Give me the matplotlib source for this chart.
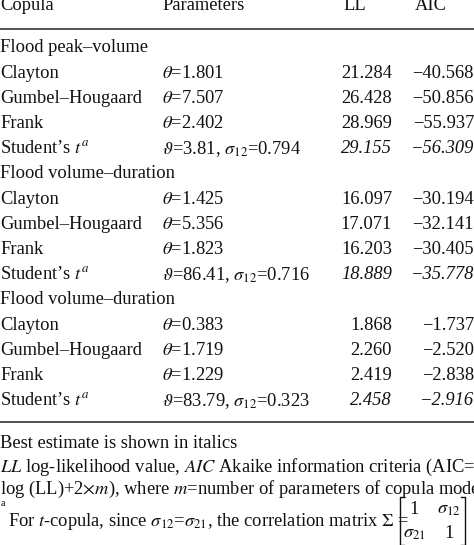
import matplotlib
matplotlib.use("Agg")
import matplotlib.pyplot as plt

plt.rcParams['font.family'] = ['Liberation Serif', 'DejaVu Serif']
plt.rcParams['mathtext.fontset'] = 'stix'

headers = ["Copula", "Parameters", "LL", "AIC"]
groups = ["Flood peak\u2013volume", "Flood volume\u2013duration", "Flood volume\u2013duration"]
copulas = ["Clayton", "Gumbel\u2013Hougaard", "Frank", "Student\u2019s $t^a$"]
params = [
    [r"$\theta$=1.801", r"$\theta$=7.507", r"$\theta$=2.402", r"$\vartheta$=3.81, $\sigma_{12}$=0.794"],
    [r"$\theta$=1.425", r"$\theta$=5.356", r"$\theta$=1.823", r"$\vartheta$=86.41, $\sigma_{12}$=0.716"],
    [r"$\theta$=0.383", r"$\theta$=1.719", r"$\theta$=1.229", r"$\vartheta$=83.79, $\sigma_{12}$=0.323"],
]
ll = [["21.284", "26.428", "28.969", "29.155"],
      ["16.097", "17.071", "16.203", "18.889"],
      ["1.868", "2.260", "2.419", "2.458"]]
aic = [["\u221240.568", "\u221250.856", "\u221255.937", "\u221256.309"],
       ["\u221230.194", "\u221232.141", "\u221230.405", "\u221235.778"],
       ["\u22121.737", "\u22122.520", "\u22122.838", "\u22122.916"]]

fig = plt.figure(figsize=(4.74, 5.45), dpi=100)
ax = fig.add_axes([0, 0, 1, 1])
ax.set_xlim(0, 474)
ax.set_ylim(545, 0)
ax.axis("off")

fs = 13.3
kw = dict(fontsize=fs, va="center", color="#111111")
ax.text(0, 6, headers[0], ha="left", **kw)
ax.text(162, 6, headers[1], ha="left", **kw)
ax.text(343, 6, headers[2], ha="left", **kw)
ax.text(415, 6, headers[3], ha="left", **kw)
ax.plot([0, 474], [29, 29], color="#333333", lw=1.2)

y = 48
step = 25.2
for g in range(3):
    ax.text(0, y, groups[g], ha="left", **kw)
    y += step
    for i in range(4):
        st = "italic" if i == 3 else "normal"
        ax.text(0, y, copulas[i], ha="left", **kw)
        ax.text(162, y, params[g][i], ha="left", **kw)
        ax.text(392, y, ll[g][i], ha="right", style=st, **kw)
        ax.text(474, y, aic[g][i], ha="right", style=st, **kw)
        y += step

ax.plot([0, 474], [422, 422], color="#333333", lw=1.2)
ax.text(0, 443, "Best estimate is shown in italics", ha="left", **kw)
ax.text(0, 467, "$\\it{LL}$ log-likelihood value, $\\it{AIC}$ Akaike information criteria (AIC=\u22122\u00d7", ha="left", **kw)
ax.text(0, 489, r"log (LL)+2$\times$$\it{m}$), where $\it{m}$=number of parameters of copula model", ha="left", **kw)
ax.text(1, 503, "a", ha="left", fontsize=7, va="center")
ax.text(8, 521, r"For $\it{t}$-copula, since $\sigma_{12}$=$\sigma_{21}$, the correlation matrix $\it{\Sigma}$ =", ha="left", **kw)
# matrix drawn manually
ax.text(414, 510, "1", ha="center", **kw)
ax.text(449, 510, r"$\sigma_{12}$", ha="center", **kw)
ax.text(414, 533, r"$\sigma_{21}$", ha="center", **kw)
ax.text(449, 533, "1", ha="center", **kw)
for x0, d in [(400, 1), (465, -1)]:
    ax.plot([x0 + 4 * d, x0, x0, x0 + 4 * d], [497, 497, 545, 545], color="#111111", lw=1)

fig.savefig("out.png", dpi=100)
